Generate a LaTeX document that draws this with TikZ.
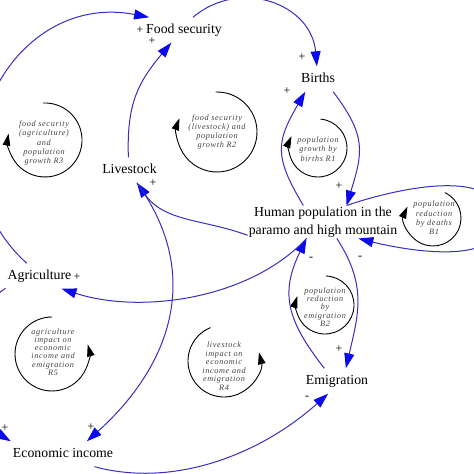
\documentclass[tikz,border=0pt]{standalone}
\usepackage{fontspec}
\setmainfont{Liberation Serif}
\newfontfamily\loopfont[LetterSpace=8]{Liberation Serif}
\usetikzlibrary{arrows.meta}
\definecolor{linkblue}{RGB}{55,45,190}
\definecolor{tipblue}{RGB}{10,10,235}
\definecolor{loopgray}{RGB}{65,65,65}

\begin{document}
\begin{tikzpicture}[x=1pt,y=1pt]
\useasboundingbox (0,0) rectangle (474,474);

% variables
\begin{scope}[every node/.style={font=\fontsize{13.8}{16}\selectfont,inner xsep=2pt,inner ysep=6pt,text height=10pt,text depth=3pt}]
    \node (food) at (184,444) {Food security};
    \node (births) at (318,395) {Births};
    \node (live) at (129.5,304) {Livestock};
    \node (agri) at (39.5,198) {Agriculture};
    \node (emig) at (337,93) {Emigration};
    \node (econ) at (63,20) {Economic income};
\end{scope}
\node[font=\fontsize{13.8}{18}\selectfont,align=center,inner sep=1pt] (hum) at (323,252) {Human population in the\\paramo and high mountain};
\coordinate (deaths) at (500,254);

% polarities
\begin{scope}[every node/.style={font=\fontsize{12}{12}\selectfont,inner sep=0pt}]
    \node (sFoodL) at (140,444) {+};
    \node (sFoodB) at (152,433) {+};
    \node (sBirthsT) at (302,417) {+};
    \node (sBirthsB) at (287,383) {+};
    \node (sLive) at (153,291) {+};
    \node (sHumT) at (339,288) {+};
    \node (sHumL) at (311,215) {-};
    \node (sHumR) at (360,216) {-};
    \node (sAgri) at (77,197) {+};
    \node (sEmigB) at (307,76) {-};
    \node (sEmigT) at (339,125) {+};
    \node (sEconL) at (5,46) {+};
    \node (sEconR) at (91,47) {+};
\end{scope}

% loop names
\begin{scope}[every node/.style={font=\loopfont\itshape\fontsize{8.2}{9.3}\selectfont,text=loopgray,align=center,inner sep=0pt}]
    \node (lR3) at (44,331) {food security\\(agriculture)\\and\\population\\growth R3};
    \node (lR2) at (217,342) {food security\\(livestock) and\\population\\growth R2};
    \node (lR1) at (318,325) {population\\growth by\\births R1};
    \node (lB1) at (434,256) {population\\reduction\\by deaths\\B1};
    \node[font=\loopfont\itshape\fontsize{8.2}{8.3}\selectfont] (lB2) at (325,167) {population\\reduction\\by\\emigration\\B2};
    \node[font=\loopfont\itshape\fontsize{8.2}{8.3}\selectfont] (lR5) at (53,122) {agriculture\\impact on\\economic\\income and\\emigration\\R5};
    \node[font=\loopfont\itshape\fontsize{8.2}{8.5}\selectfont] (lR4) at (224,108) {livestock\\impact on\\economic\\income and\\emigration\\R4};
\end{scope}

\begin{scope}[every path/.style={draw=black,line width=0.9pt,-{Triangle[length=12pt,width=7.5pt]}}]
    \draw (45,334) ++(93:37) arc[start angle=93,end angle=-190,radius=37];
    \draw (217,342) ++(92:40) arc[start angle=92,end angle=-200,radius=40];
    \draw (318,326) ++(85:29) arc[start angle=85,end angle=-204,radius=29];
    \draw (433,256) ++(65:28) arc[start angle=65,end angle=-204,radius=28];
    \draw (325,169) ++(88:29) arc[start angle=88,end angle=-198,radius=29];
    \draw (52,120) ++(90:37) arc[start angle=90,end angle=375,radius=37];
    \draw (224,113) ++(112:36) arc[start angle=112,end angle=374,radius=36];
\end{scope}

% links
\begin{scope}[>={Triangle[length=15pt,width=10pt,color=tipblue]},
              every edge/.style={draw=linkblue,line width=1pt}]
    \path [->] (agri.135) edge[out=138,in=169,looseness=1.34] (food.160);
    \path [->] (live.95) edge[out=92,in=-130,looseness=1.1] (food.-135);
    \path [->] (food.55) edge[out=40,in=95,looseness=1.2] (births.95);
    \path [->] (hum.140) edge[out=121,in=240,looseness=1.3] (births.-135);
    \path [->] (births.-40) edge[out=-53,in=73,looseness=1.25] (hum.35);
    \path [->] (hum.-50) edge[out=-57,in=77,looseness=1.1] (emig.55);
    \path [->] (emig.135) edge[out=128,in=-116,looseness=1.19] (hum.-135);
    \path [-] (hum.35) edge[out=19,in=90,looseness=0.9] (deaths);
    \path [->] (deaths) edge[out=-90,in=-14,looseness=0.85] (hum.-25);
    \path [->] (hum.190) edge[out=160,in=-55] (live.-60);
    \path [->] (hum.-135) edge[out=-133,in=-18,looseness=0.85] (agri.-30);
    \path [->] (live.-60) edge[out=-54,in=42,looseness=1.1] (econ.28);
    \path [->] (agri.200) edge[out=-148,in=149] (econ.north west);
    \path [->] (econ.-22) edge[out=-15,in=-138,looseness=0.9] (emig.-125);
\end{scope}
\end{tikzpicture}
\end{document}
